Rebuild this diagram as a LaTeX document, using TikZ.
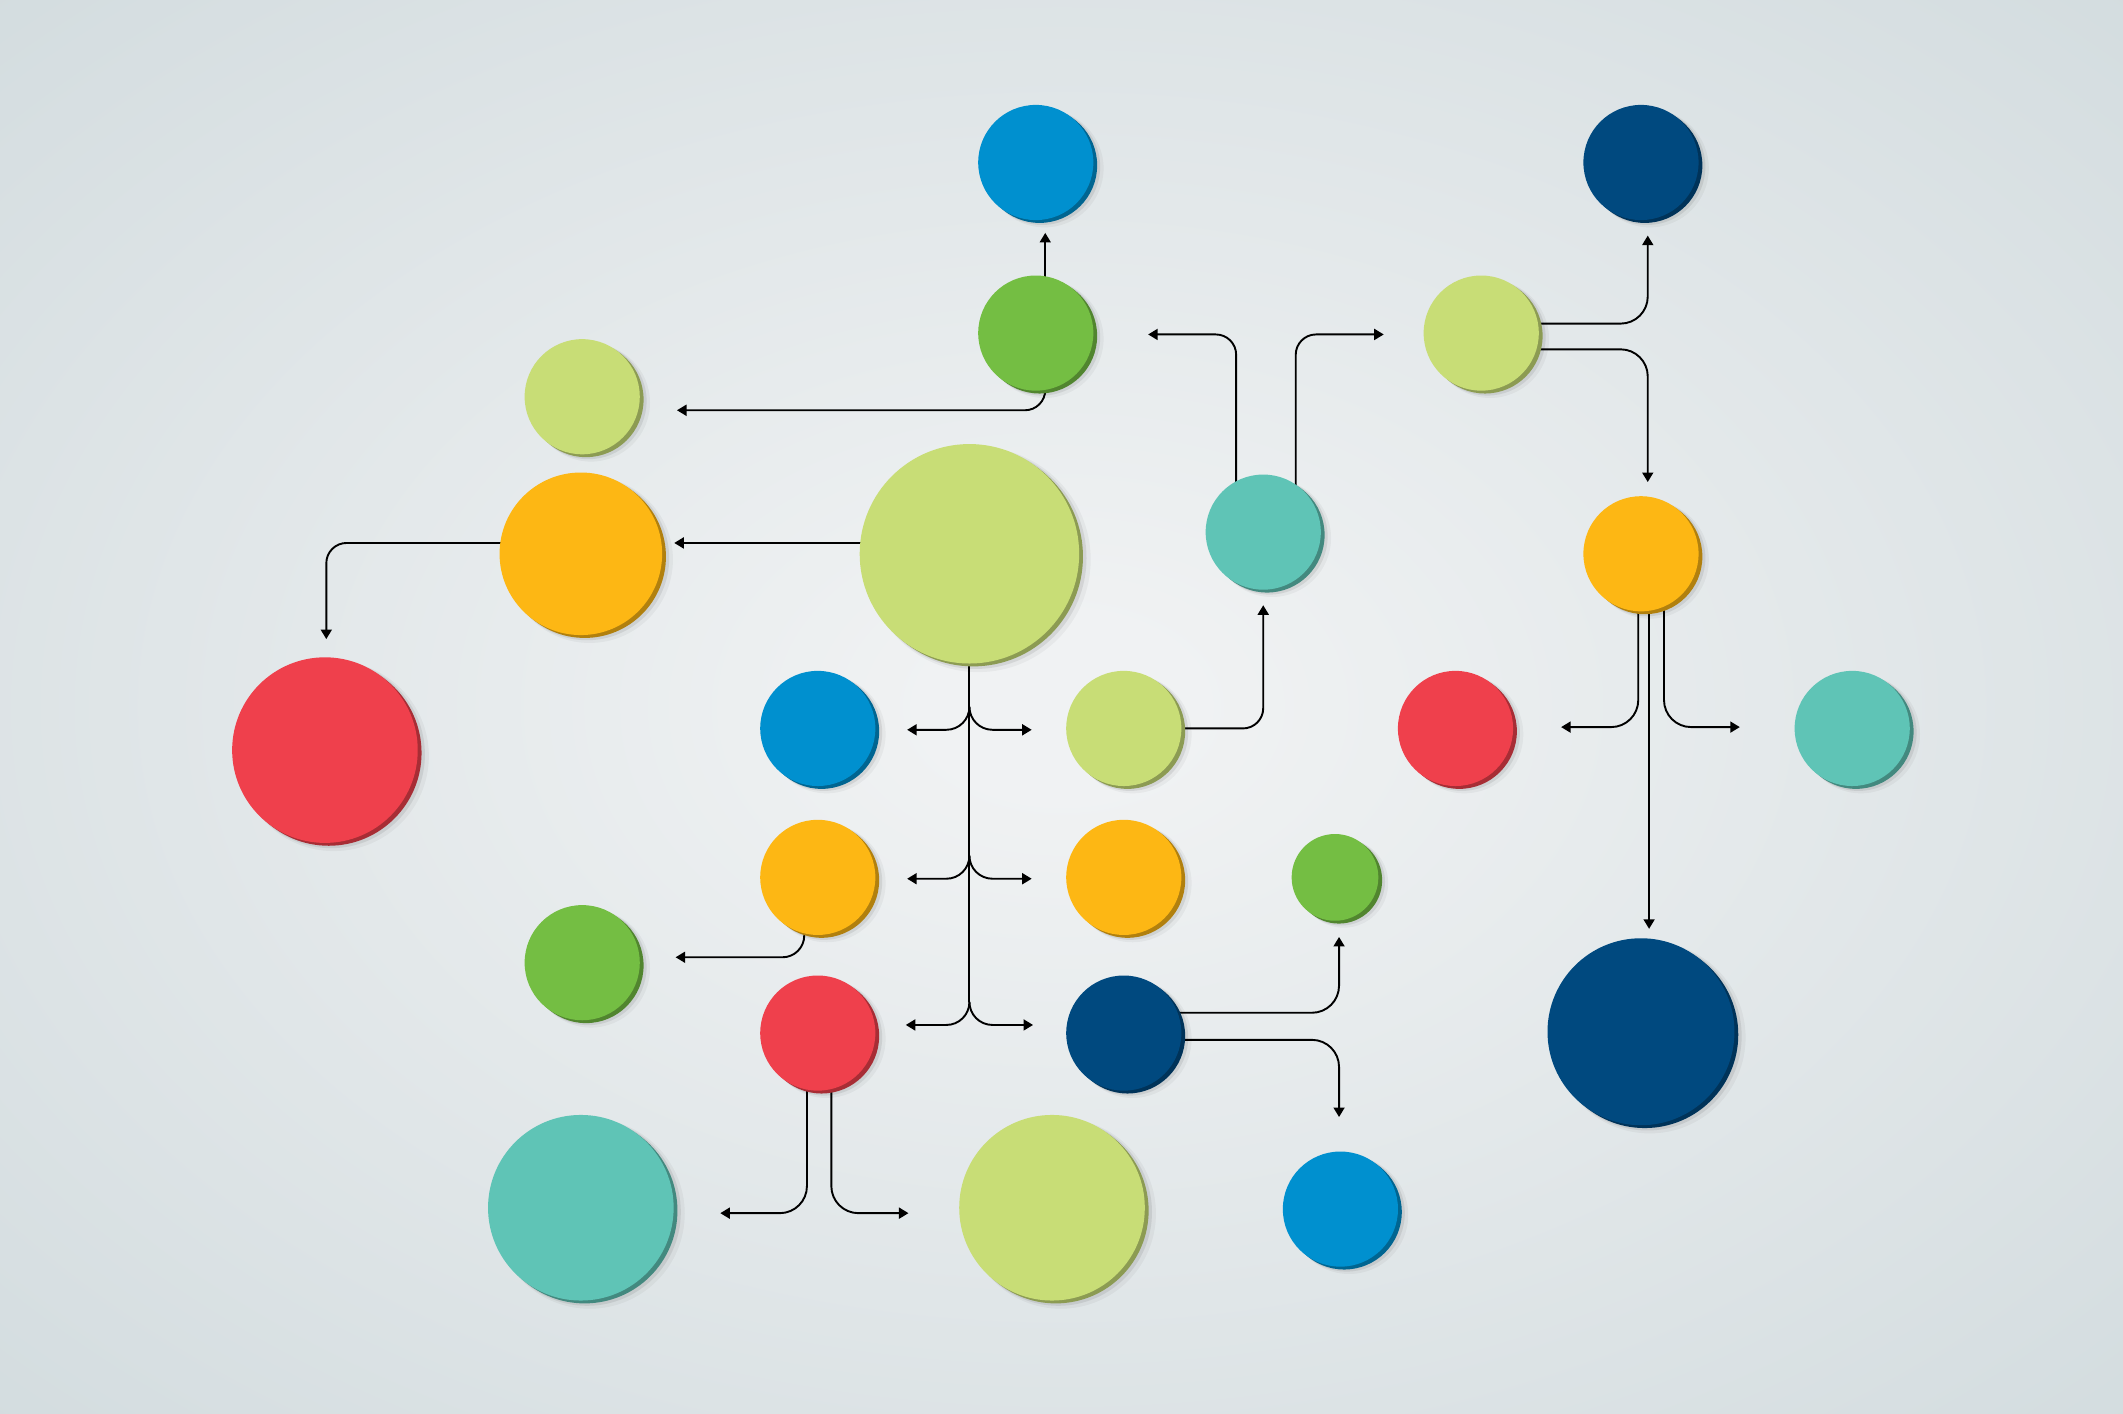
\documentclass[tikz,border=0pt]{standalone}
\usetikzlibrary{arrows.meta,shadows,calc}
\definecolor{cBlue}{HTML}{0090CF}
\definecolor{cNavy}{HTML}{00497F}
\definecolor{cGreen}{HTML}{74BE43}
\definecolor{cLime}{HTML}{C8DD76}
\definecolor{cOrange}{HTML}{FDB714}
\definecolor{cTeal}{HTML}{5FC4B6}
\definecolor{cRed}{HTML}{EF404C}
\definecolor{bgIn}{HTML}{F0F2F3}
\definecolor{bgOut}{HTML}{D3DCDF}
\pgfdeclareradialshading{bgshade}{\pgfpoint{0bp}{0bp}}{color(0bp)=(bgIn); color(3bp)=(bgIn); color(36bp)=(bgOut); color(50bp)=(bgOut)}
\pgfdeclarelayer{bglayer}
\pgfdeclarelayer{lines}
\pgfsetlayers{bglayer,lines,main}
\tikzset{
  disc/.style 2 args={circle, inner sep=0pt, minimum size=#2, fill=#1,
    general shadow={fill=black, opacity=0.04, shadow xshift=1.8pt, shadow yshift=-1.2pt, shadow scale=1.025},
    general shadow={fill=black, opacity=0.08, shadow xshift=1.3pt, shadow yshift=-0.9pt, shadow scale=1.01},
    general shadow={fill=#1!70!black, shadow xshift=0.8pt, shadow yshift=-0.6pt}},
  conn/.style={line width=0.4pt, draw=black},
  arr/.style={conn, -{Triangle[length=2pt,width=2.3pt]}},
  rc/.style={rounded corners=#1},
}
\begin{document}
\begin{tikzpicture}[x=0.01cm, y=-0.01cm]
\begin{pgfonlayer}{bglayer}
\path[use as bounding box, shading=bgshade] (0,0) rectangle (1568,1044);
\end{pgfonlayer}

% circles
\node[disc={cBlue}{0.85cm}]   (b1) at (765,120) {};
\node[disc={cNavy}{0.85cm}]   (n1) at (1212,120) {};
\node[disc={cGreen}{0.85cm}]  (g1) at (765,246) {};
\node[disc={cLime}{0.85cm}]   (l1) at (430,293) {};
\node[disc={cLime}{0.85cm}]   (l2) at (1094,246) {};
\node[disc={cOrange}{1.2cm}]  (o1) at (429,409) {};
\node[disc={cLime}{1.62cm}]   (cb) at (716,409) {};
\node[disc={cTeal}{0.85cm}]   (t1) at (933,393) {};
\node[disc={cOrange}{0.85cm}] (o2) at (1212,409) {};
\node[disc={cRed}{1.37cm}]    (r1) at (240,554) {};
\node[disc={cBlue}{0.85cm}]   (b2) at (604,538) {};
\node[disc={cLime}{0.85cm}]   (l3) at (830,538) {};
\node[disc={cRed}{0.85cm}]    (r2) at (1075,538) {};
\node[disc={cTeal}{0.85cm}]   (t2) at (1368,538) {};
\node[disc={cOrange}{0.85cm}] (o3) at (604,648) {};
\node[disc={cOrange}{0.85cm}] (o4) at (830,648) {};
\node[disc={cGreen}{0.64cm}]  (g2) at (986,648) {};
\node[disc={cGreen}{0.85cm}]  (g3) at (430,711) {};
\node[disc={cRed}{0.85cm}]    (r3) at (604,763) {};
\node[disc={cNavy}{0.85cm}]   (n2) at (830,763) {};
\node[disc={cNavy}{1.38cm}]   (n3) at (1212,762) {};
\node[disc={cTeal}{1.37cm}]   (t3) at (429,892) {};
\node[disc={cLime}{1.37cm}]   (l4) at (777,892) {};
\node[disc={cBlue}{0.85cm}]   (b3) at (990,893) {};

% arrow targets
\coordinate (a1) at (772,172);
\coordinate (a2) at (500,303);
\coordinate (a3) at (498,401);
\coordinate (a4) at (241,472);
\coordinate (a6) at (499,707);
\coordinate (a7) at (933,447);
\coordinate (a8) at (848,247);
\coordinate (a9) at (1022,247);
\coordinate (a10) at (1217,174);
\coordinate (a10b) at (1217,356);
\coordinate (a11) at (1153,537);
\coordinate (a12) at (1285,537);
\coordinate (a13) at (1218,686);
\coordinate (a14) at (989,692);
\coordinate (a15) at (989,825);
\coordinate (a16) at (532,896);
\coordinate (a17) at (671,896);
% trunk forks
\coordinate (k1) at (716,522);
\coordinate (k2) at (716,632);
\coordinate (k3) at (716,740);
\coordinate (kl1) at (670,539);
\coordinate (kr1) at (762,539);
\coordinate (kl2) at (670,649);
\coordinate (kr2) at (762,649);
\coordinate (kl3) at (669,757);
\coordinate (kr3) at (763,757);

\begin{pgfonlayer}{lines}
% green top
\draw[arr] ($(g1.center)+(7,0)$) -- (a1);
\draw[arr, rc=0.15cm] ($(g1.center)+(7,0)$) |- (a2);
% big centre
\draw[arr] (cb.center |- a3) -- (a3);
\draw[arr, rc=0.15cm] (o1.center |- a3) -| (a4);
% trunk
\draw[conn] (cb.center) -- (k3);
\draw[arr, rc=0.17cm] (k1) |- (kl1);
\draw[arr, rc=0.17cm] (k1) |- (kr1);
\draw[arr, rc=0.17cm] (k2) |- (kl2);
\draw[arr, rc=0.17cm] (k2) |- (kr2);
\draw[arr, rc=0.17cm] (k3) |- (kl3);
\draw[arr, rc=0.17cm] (k3) |- (kr3);
% orange left-bottom
\draw[arr, rc=0.16cm] ($(o3.center)+(-10,0)$) |- (a6);
% lime to teal
\draw[arr, rc=0.15cm] (l3.center) -| (a7);
% teal up
\draw[arr, rc=0.15cm] ($(t1.center)+(-20,0)$) |- (a8);
\draw[arr, rc=0.15cm] ($(t1.center)+(24,0)$) |- (a9);
% lime top right
\draw[arr, rc=0.2cm] ($(l2.center)+(0,-7)$) -| (a10);
\draw[arr, rc=0.2cm] ($(l2.center)+(0,12)$) -| (a10b);
% orange right
\draw[arr, rc=0.2cm] ($(o2.center)+(-2,0)$) |- (a11);
\draw[arr, rc=0.2cm] ($(o2.center)+(17,0)$) |- (a12);
\draw[arr] ($(o2.center)+(6,0)$) -- (a13);
% navy
\draw[arr, rc=0.2cm] ($(n2.center)+(0,-15)$) -| (a14);
\draw[arr, rc=0.2cm] ($(n2.center)+(0,5)$) -| (a15);
% red bottom
\draw[arr, rc=0.2cm] ($(r3.center)+(-8,0)$) |- (a16);
\draw[arr, rc=0.2cm] ($(r3.center)+(10,0)$) |- (a17);
\end{pgfonlayer}
\end{tikzpicture}
\end{document}
